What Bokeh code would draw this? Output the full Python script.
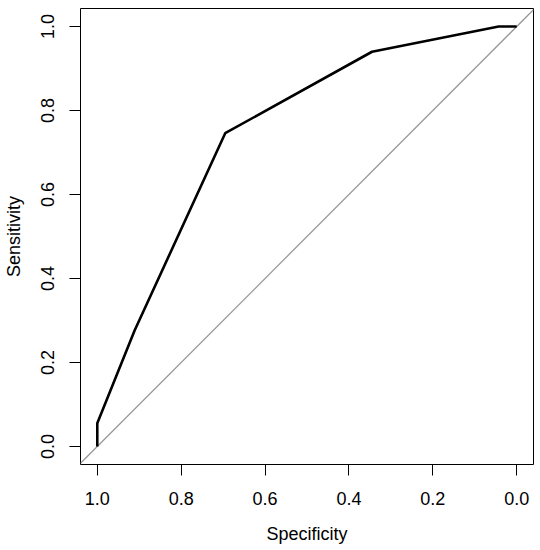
from bokeh.plotting import figure
from bokeh.models import Range1d, FixedTicker
from bokeh.embed import file_html
from bokeh.resources import INLINE

# ROC curve points
specificity = [1.0, 1.0, 0.911, 0.695, 0.345, 0.043, 0.0]
sensitivity = [0.0, 0.055, 0.276, 0.746, 0.940, 1.0, 1.0]
ticks = [0.0, 0.2, 0.4, 0.6, 0.8, 1.0]

FONT = "Liberation Sans"

p = figure(width=534, height=548, output_backend="svg", toolbar_location=None,
           x_range=Range1d(1.04, -0.04), y_range=Range1d(-0.043, 1.043),
           min_border_left=79, min_border_right=1, min_border_top=8, min_border_bottom=84)

p.background_fill_color = "white"
p.border_fill_color = "white"
p.outline_line_color = "black"
p.outline_line_width = 1
p.xgrid.visible = False
p.ygrid.visible = False

# chance diagonal, corner to corner
p.line([1.04, -0.04], [-0.04, 1.04], line_color="#999999", line_width=1.3)
p.line(specificity, sensitivity, line_color="black", line_width=2.6)

for ax in (p.xaxis[0], p.yaxis[0]):
    ax.ticker = FixedTicker(ticks=ticks)
    ax.minor_tick_line_color = None
    ax.axis_line_color = None
    ax.major_tick_in = 0
    ax.major_tick_out = 11
    ax.major_tick_line_color = "black"
    ax.major_label_text_font = FONT
    ax.major_label_text_font_size = "18px"
    ax.major_label_text_color = "black"
    ax.axis_label_text_font = FONT
    ax.axis_label_text_font_size = "18px"
    ax.axis_label_text_font_style = "normal"
    ax.axis_label_text_color = "black"

p.xaxis.axis_label = "Specificity"
p.yaxis.axis_label = "Sensitivity"
p.xaxis.major_label_overrides = {t: f"{t:.1f}" for t in ticks}
p.yaxis.major_label_overrides = {t: f"{t:.1f}" for t in ticks}
p.yaxis.major_label_orientation = "vertical"
p.xaxis.major_label_standoff = 16
p.yaxis.major_label_standoff = 15
p.xaxis.axis_label_standoff = 16
p.yaxis.axis_label_standoff = 15

open("out.html", "w").write(file_html(p, INLINE))
